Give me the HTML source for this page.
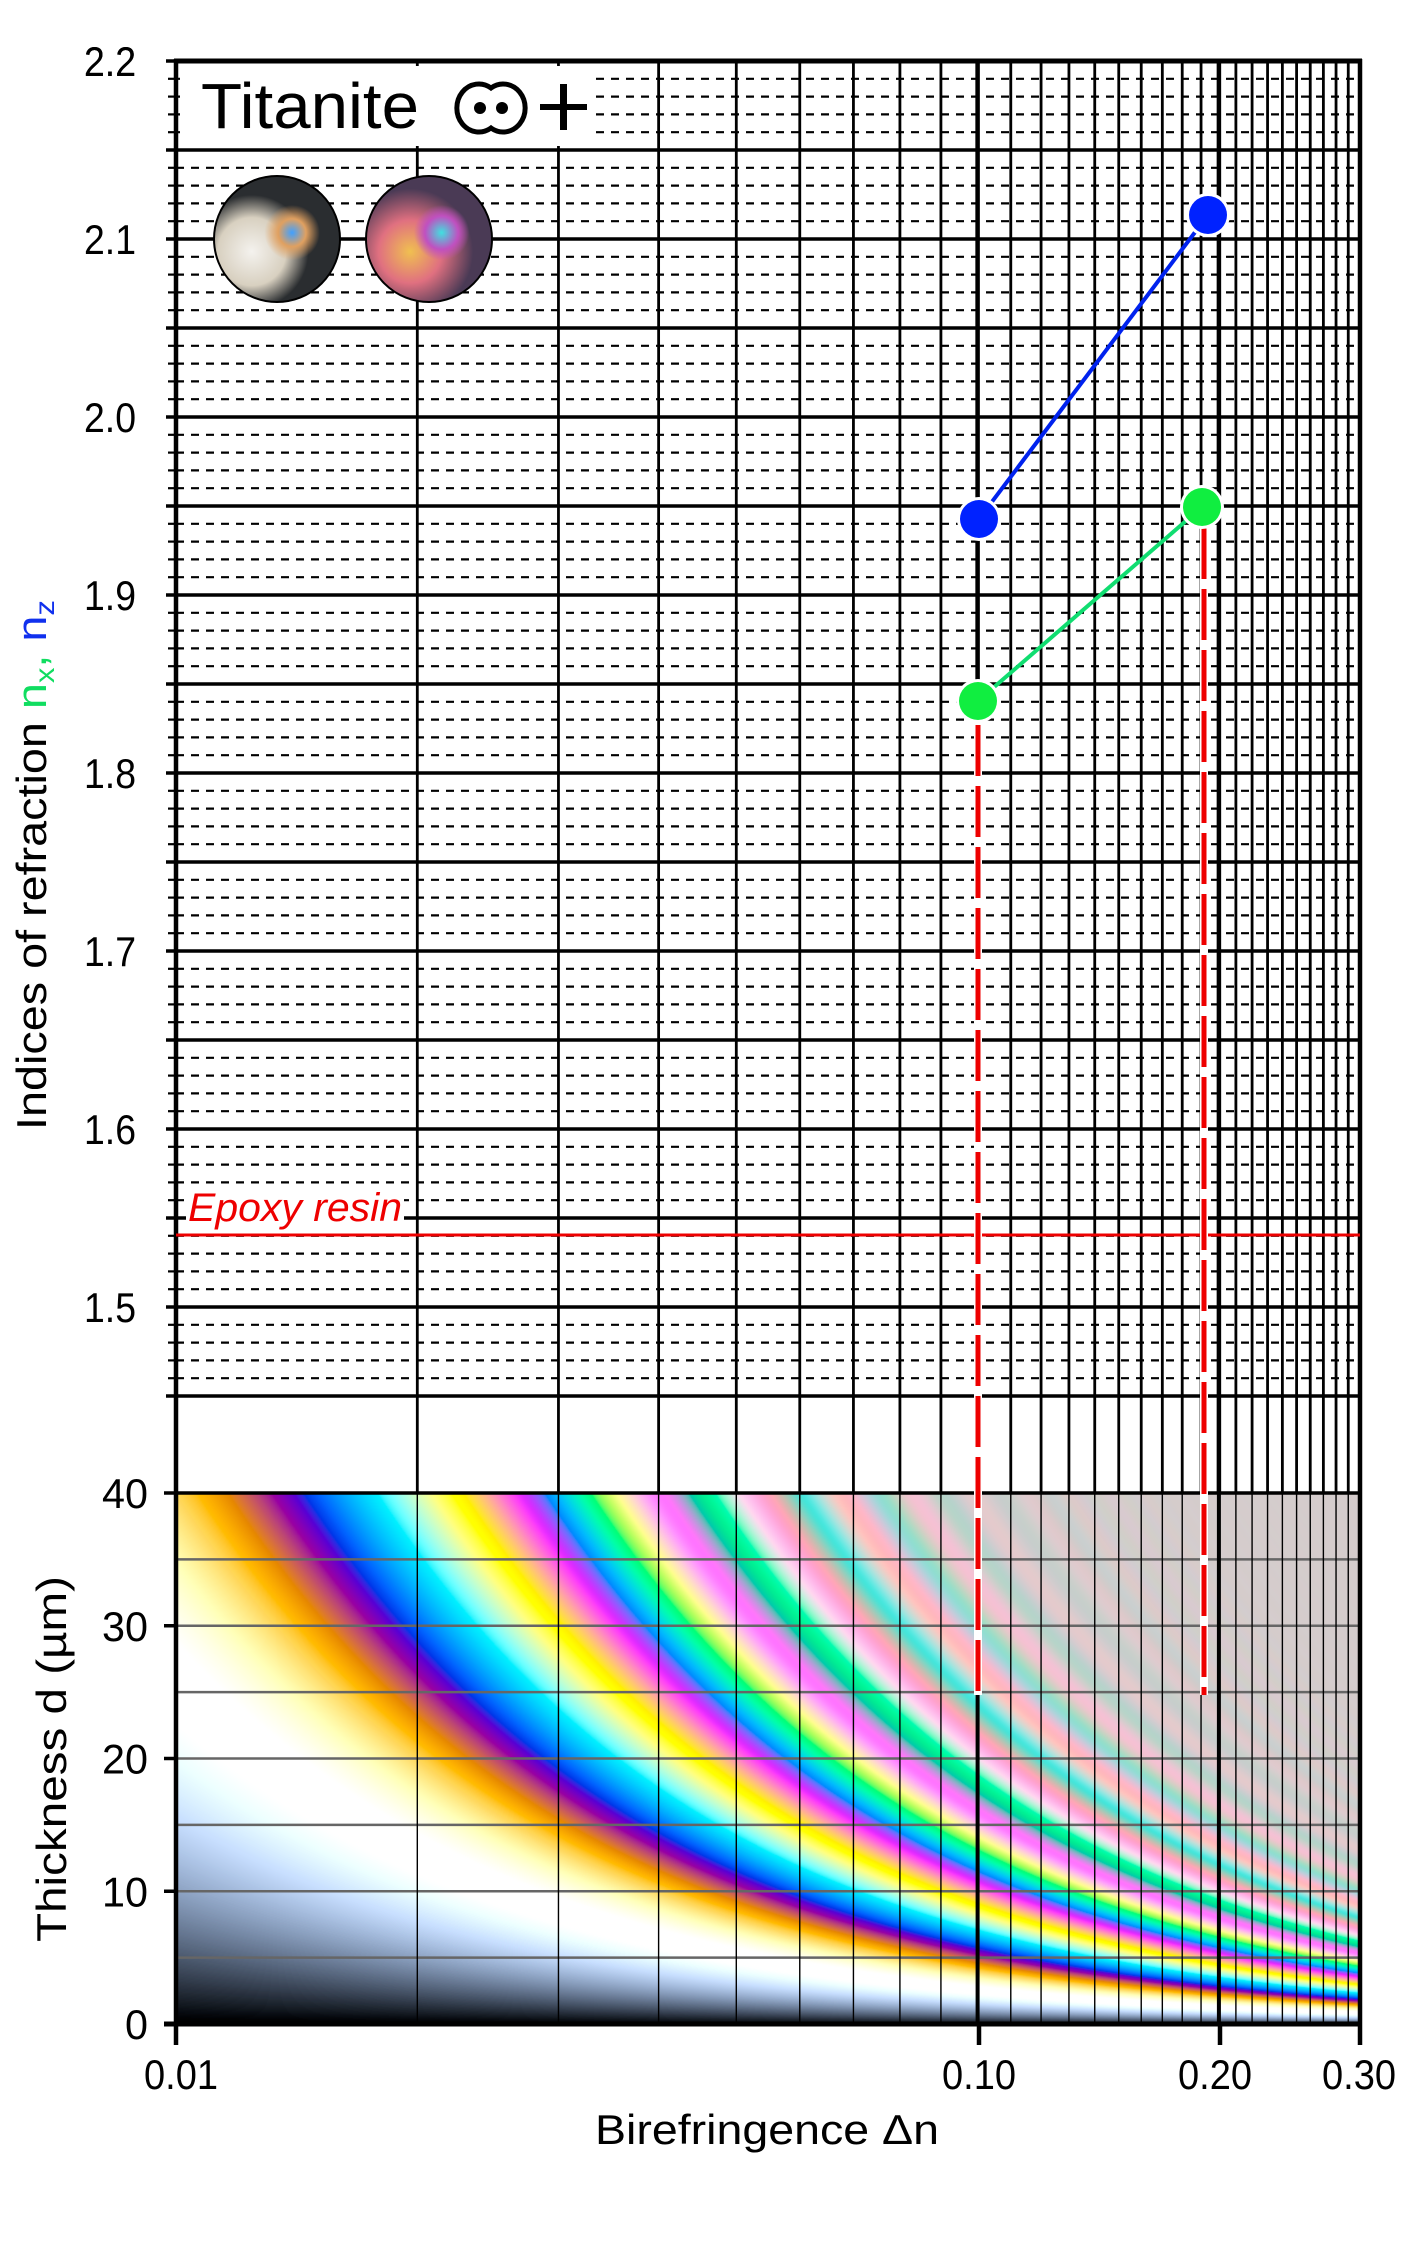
<!DOCTYPE html>
<html><head><meta charset="utf-8">
<style>
html,body{margin:0;padding:0;background:#fff;}
#wrap{position:relative;width:1417px;height:2244px;overflow:hidden;}
canvas{position:absolute;left:176px;top:1493px;}
svg{position:absolute;left:0;top:0;}
text{font-family:"Liberation Sans",sans-serif;}
</style></head><body>
<div id="wrap">
<canvas id="c" width="1184" height="531"></canvas>
<svg id="s" width="1417" height="2244" xmlns="http://www.w3.org/2000/svg">
<defs>
<clipPath id="e1"><ellipse cx="277" cy="239" rx="63" ry="63"/></clipPath>
<clipPath id="e2"><ellipse cx="429" cy="239" rx="63" ry="63"/></clipPath>
<radialGradient id="g1a" cx="0.3" cy="0.6" r="0.45"><stop offset="0" stop-color="#f4f2ee"/><stop offset="0.6" stop-color="#d8d0c0"/><stop offset="1" stop-color="#d8d0c0" stop-opacity="0"/></radialGradient>
<radialGradient id="g1b" cx="0.62" cy="0.45" r="0.22"><stop offset="0" stop-color="#40a0ff"/><stop offset="0.5" stop-color="#e0a060"/><stop offset="1" stop-color="#e0a060" stop-opacity="0"/></radialGradient>
<radialGradient id="g2a" cx="0.35" cy="0.6" r="0.5"><stop offset="0" stop-color="#f0c050"/><stop offset="0.5" stop-color="#e07080"/><stop offset="1" stop-color="#e07080" stop-opacity="0"/></radialGradient>
<radialGradient id="g2b" cx="0.6" cy="0.45" r="0.22"><stop offset="0" stop-color="#40e0e0"/><stop offset="0.6" stop-color="#c050c0"/><stop offset="1" stop-color="#c050c0" stop-opacity="0"/></radialGradient>
</defs>
<g id="grid"></g>
<rect x="180" y="66" width="410" height="80" fill="#fff"/>
<text x="201" y="128" font-size="64" textLength="218" lengthAdjust="spacingAndGlyphs">Titanite</text>
<path d="M491,88 a22,24 0 1,0 0,40 a22,24 0 1,0 0,-40 z" fill="none" stroke="#000" stroke-width="5"/>
<circle cx="480" cy="108" r="6"/><circle cx="502" cy="108" r="6"/>
<rect x="540" y="104" width="47" height="6"/><rect x="560" y="84" width="7" height="46"/>
<g clip-path="url(#e1)"><rect x="214" y="176" width="126" height="126" fill="#2a2d30"/><rect x="214" y="176" width="126" height="126" fill="url(#g1a)"/><rect x="214" y="176" width="126" height="126" fill="url(#g1b)"/></g>
<ellipse cx="277" cy="239" rx="63" ry="63" fill="none" stroke="#000" stroke-width="2"/>
<g clip-path="url(#e2)"><rect x="366" y="176" width="126" height="126" fill="#4a3a55"/><rect x="366" y="176" width="126" height="126" fill="url(#g2a)"/><rect x="366" y="176" width="126" height="126" fill="url(#g2b)"/></g>
<ellipse cx="429" cy="239" rx="63" ry="63" fill="none" stroke="#000" stroke-width="2"/>
<rect x="186" y="1190" width="218" height="40" fill="#fff"/>
<text x="188" y="1221" font-size="40" font-style="italic" fill="#e00" textLength="214" lengthAdjust="spacingAndGlyphs">Epoxy resin</text>
<line x1="176" y1="1235" x2="1360" y2="1235" stroke="#e00" stroke-width="3"/>
<line x1="978" y1="720" x2="978" y2="1695" stroke="#fff" stroke-width="8"/>
<line x1="978" y1="725" x2="978" y2="1695" stroke="#e00" stroke-width="5" stroke-dasharray="51 10"/>
<line x1="1204" y1="525" x2="1204" y2="1695" stroke="#fff" stroke-width="8"/>
<line x1="1204" y1="528" x2="1204" y2="1695" stroke="#e00" stroke-width="5" stroke-dasharray="51 10"/>
<line x1="979" y1="519" x2="1208" y2="215" stroke="#0022ee" stroke-width="4"/>
<line x1="978" y1="701" x2="1202" y2="507" stroke="#10dd70" stroke-width="4"/>
<circle cx="979" cy="519" r="22" fill="#fff"/><circle cx="979" cy="519" r="19" fill="#0022ff"/>
<circle cx="1208" cy="215" r="22" fill="#fff"/><circle cx="1208" cy="215" r="19" fill="#0022ff"/>
<circle cx="978" cy="701" r="22" fill="#fff"/><circle cx="978" cy="701" r="19" fill="#10ee40"/>
<circle cx="1202" cy="507" r="22" fill="#fff"/><circle cx="1202" cy="507" r="19" fill="#10ee40"/>
<g id="labels" font-size="42"></g>
<text x="767" y="2144" font-size="42" text-anchor="middle" textLength="344" lengthAdjust="spacingAndGlyphs">Birefringence  Δn</text>
<text transform="translate(66,1759) rotate(-90)" font-size="42" text-anchor="middle" textLength="366" lengthAdjust="spacingAndGlyphs">Thickness  d  (µm)</text>
<text transform="translate(46,1130) rotate(-90)" font-size="42" textLength="530" lengthAdjust="spacingAndGlyphs">Indices of refraction <tspan fill="#10dd60">n<tspan font-size="28" dy="8">x</tspan><tspan dy="-8">,</tspan></tspan><tspan fill="#1030ee"> n<tspan font-size="28" dy="8">z</tspan></tspan></text>
</svg>
</div>
<script>
(function(){
var NS="http://www.w3.org/2000/svg";
var g=document.getElementById('grid'),lab=document.getElementById('labels');
function el(p,t,a,txt){var e=document.createElementNS(NS,t);for(var k in a)e.setAttribute(k,a[k]);if(txt)e.textContent=txt;p.appendChild(e);return e;}
var X0=176,X1=1360,K=801.6;
function X(dn){return X0+K*Math.log10(dn/0.01);}
function Yn(n){return 61+(2.2-n)*1780;}
function Yd(d){return 2024-d*13.275;}
for(var i=0;i<=75;i++){var n=1.45+i*0.01,y=Yn(n);
 if(i%5==0){el(g,'line',{x1:166,y1:y,x2:X1,y2:y,stroke:'#000','stroke-width':3.5});}
 else{el(g,'line',{x1:X0,y1:y,x2:X1,y2:y,stroke:'#000','stroke-width':2.2,'stroke-dasharray':'8 7'});
      el(g,'line',{x1:168,y1:y,x2:X0,y2:y,stroke:'#000','stroke-width':2.2});}}
for(var i=0;i<=7;i++){var n=1.5+i*0.1;
 el(lab,'text',{x:136,y:Yn(n)+15,'text-anchor':'end',textLength:52,lengthAdjust:'spacingAndGlyphs'},n.toFixed(1));}
for(var d=5;d<40;d+=5){el(g,'line',{x1:X0,y1:Yd(d),x2:X1,y2:Yd(d),stroke:'#666','stroke-width':2.5});}
for(var d=0;d<=40;d+=10){el(g,'line',{x1:164,y1:Yd(d),x2:X0,y2:Yd(d),stroke:'#000','stroke-width':3.5});
 var s=''+d;el(lab,'text',{x:148,y:Yd(d)+15,'text-anchor':'end',textLength:s.length*23,lengthAdjust:'spacingAndGlyphs'},s);}
el(g,'line',{x1:X0,y1:Yd(40),x2:X1,y2:Yd(40),stroke:'#000','stroke-width':3.5});
var vals=[];for(var k=2;k<=9;k++)vals.push(k/100);for(var k=10;k<=29;k++)vals.push(k/100);
vals.forEach(function(v){var x=X(v);var thick=(Math.abs(v-0.1)<1e-6||Math.abs(v-0.2)<1e-6);
 el(g,'line',{x1:x,y1:61,x2:x,y2:1493,stroke:'#000','stroke-width':thick?4.5:2.8});
 el(g,'line',{x1:x,y1:1493,x2:x,y2:2024,stroke:'#000','stroke-width':thick?4:1.4});});
el(g,'line',{x1:X0-2,y1:61,x2:X1+2,y2:61,stroke:'#000','stroke-width':5});
el(g,'line',{x1:X0,y1:59,x2:X0,y2:2045,stroke:'#000','stroke-width':4.5});
el(g,'line',{x1:X1,y1:59,x2:X1,y2:2045,stroke:'#000','stroke-width':4.5});
el(g,'line',{x1:164,y1:2024,x2:X1+2,y2:2024,stroke:'#000','stroke-width':5});
[[0.1,979],[0.2,1220]].forEach(function(p){el(g,'line',{x1:p[1],y1:2024,x2:p[1],y2:2045,stroke:'#000','stroke-width':4.5});});
[['0.01',181],['0.10',979],['0.20',1215],['0.30',1359]].forEach(function(p){
 el(lab,'text',{x:p[1],y:2089,'text-anchor':'middle',textLength:74,lengthAdjust:'spacingAndGlyphs'},p[0]);});
el(lab,'text',{x:136,y:76,'text-anchor':'end',textLength:52,lengthAdjust:'spacingAndGlyphs'},'2.2');
function gs(l,m,a,b){var t=(l-m)/(l<m?a:b);return Math.exp(-0.5*t*t);}
var L=[],XB=[],YB=[],ZB=[],sy=0;
for(var l=400;l<=700;l+=5){L.push(l);
 var x=1.056*gs(l,599.8,37.9,31.0)+0.362*gs(l,442.0,16.0,26.7)-0.065*gs(l,501.1,20.4,26.2);
 var y=0.821*gs(l,568.8,46.9,40.5)+0.286*gs(l,530.9,16.3,31.1);
 var z=1.217*gs(l,437.0,11.8,36.0)+0.681*gs(l,459.0,26.0,13.8);
 XB.push(x);YB.push(y);ZB.push(z);sy+=y;}
var sx=0,sz=0;for(var i=0;i<L.length;i++){sx+=XB[i];sz+=ZB[i];}
var RMAX=12100,lut=new Uint8Array((RMAX+1)*3);
function gam(c){c=Math.max(0,Math.min(1,c));c=c<=0.0031308?12.92*c:1.055*Math.pow(c,1/2.4)-0.055;return Math.round(c*255);}
for(var R=0;R<=RMAX;R++){var X_=0,Y_=0,Z_=0;
 for(var i=0;i<L.length;i++){var s=Math.sin(Math.PI*R/L[i]);var t=s*s;X_+=t*XB[i];Y_+=t*YB[i];Z_+=t*ZB[i];}
 X_=X_/sx*0.9505;Y_/=sy;Z_=Z_/sz*1.089;
 var r=3.2406*X_-1.5372*Y_-0.4986*Z_,gg=-0.9689*X_+1.8758*Y_+0.0415*Z_,b=0.0557*X_-0.2040*Y_+1.0570*Z_;
 var f=1.25,w=Math.min(1,Math.max(0,(R-1500)/3000));
 var tr=1+0.06*w,tg=1-0.03*w,tb=1-0.03*w;
 var lw=R<400?1:0; // slight lavender at low order
 lut[R*3]=gam(r*f*tr*(lw?1.02:1));lut[R*3+1]=gam(gg*f*tg*(lw?0.97:1));lut[R*3+2]=gam(b*f*tb);}
var c=document.getElementById('c'),ctx=c.getContext('2d'),W=1184,H=531,img=ctx.createImageData(W,H),D=img.data;
for(var px=0;px<W;px++){var dn=0.01*Math.pow(10,px/K);
 for(var py=0;py<H;py++){var d=40*(1-py/H);var R=Math.round(d*dn*1000);if(R>RMAX)R=RMAX;
  var o=(py*W+px)*4;D[o]=lut[R*3];D[o+1]=lut[R*3+1];D[o+2]=lut[R*3+2];D[o+3]=255;}}
ctx.putImageData(img,0,0);
})();
</script>
</body></html>
